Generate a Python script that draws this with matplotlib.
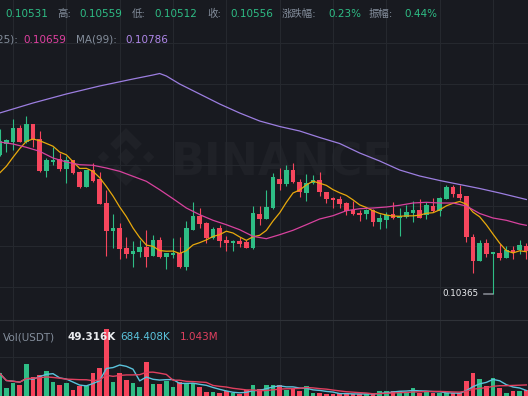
import numpy as np
import pandas as pd
import matplotlib
matplotlib.use('Agg')
import matplotlib.pyplot as plt
from matplotlib.patches import Polygon
from matplotlib.transforms import IdentityTransform

plt.rcParams['font.family'] = ['DejaVu Sans', 'Noto Sans CJK SC']

# candle data (80 candles)
opens = [0.11060, 0.111175, 0.111275, 0.11195, 0.111275, 0.11215, 0.111375, 0.10980, 0.11025, 0.110375,
         0.10990, 0.110325, 0.109775, 0.109025, 0.109825, 0.109375, 0.108225, 0.106825, 0.10695, 0.10595,
         0.105675, 0.105775, 0.105975, 0.105575, 0.10635, 0.10550, 0.10560, 0.10570, 0.10500, 0.106875,
         0.10755, 0.10720, 0.10645, 0.106925, 0.106375, 0.10620, 0.10630, 0.106275, 0.10595, 0.10765,
         0.107425, 0.10795, 0.10940, 0.109175, 0.10985, 0.10925, 0.10870, 0.10920, 0.109325, 0.10875,
         0.108475, 0.10840, 0.10820, 0.10785, 0.10770, 0.10765, 0.10785, 0.10725, 0.10735, 0.10765,
         0.10745, 0.107525, 0.10770, 0.10785, 0.10760, 0.108075, 0.10780, 0.108425, 0.108975, 0.108675,
         0.108525, 0.106525, 0.105325, 0.106175, 0.10565, 0.105725, 0.105475, 0.10585, 0.10585, 0.106075]
closes = [0.11130, 0.11135, 0.11195, 0.111275, 0.11215, 0.111375, 0.10980, 0.11035, 0.110375, 0.10990,
          0.110325, 0.109725, 0.109025, 0.109825, 0.10930, 0.108175, 0.106825, 0.106975, 0.10590, 0.10565,
          0.105825, 0.105975, 0.105525, 0.106375, 0.10550, 0.105675, 0.10570, 0.10500, 0.106925, 0.10755,
          0.107175, 0.10645, 0.10690, 0.106325, 0.10620, 0.10630, 0.106175, 0.105975, 0.10770, 0.107425,
          0.108025, 0.10950, 0.10915, 0.10985, 0.10925, 0.10875, 0.10920, 0.10935, 0.108775, 0.10840,
          0.10835, 0.10815, 0.107825, 0.10765, 0.10760, 0.10785, 0.10725, 0.107425, 0.10760, 0.10745,
          0.107575, 0.10775, 0.10785, 0.107475, 0.10810, 0.10780, 0.10845, 0.108975, 0.10865, 0.108475,
          0.106525, 0.105325, 0.106175, 0.10565, 0.105725, 0.105475, 0.10585, 0.105725, 0.106075, 0.105825]
highs = [0.11190, 0.111425, 0.11240, 0.11210, 0.11255, 0.112175, 0.11180, 0.11045, 0.11100, 0.11070,
         0.110575, 0.11035, 0.10980, 0.10985, 0.11020, 0.10975, 0.10885, 0.10765, 0.10720, 0.10650,
         0.10630, 0.10635, 0.106875, 0.106625, 0.106525, 0.10570, 0.10645, 0.10650, 0.10730, 0.108275,
         0.10795, 0.10725, 0.10700, 0.107125, 0.10655, 0.10635, 0.10650, 0.106375, 0.10805, 0.108075,
         0.10885, 0.10970, 0.10995, 0.11010, 0.110225, 0.10940, 0.10965, 0.10960, 0.10975, 0.108775,
         0.108525, 0.10855, 0.10825, 0.108325, 0.107875, 0.10790, 0.10790, 0.10765, 0.107775, 0.108275,
         0.10795, 0.10810, 0.10830, 0.10840, 0.108275, 0.10845, 0.10850, 0.10910, 0.10910, 0.109125,
         0.108575, 0.10665, 0.106375, 0.10640, 0.10575, 0.10615, 0.10605, 0.106075, 0.106375, 0.106225]
lows = [0.11055, 0.11075, 0.110875, 0.11125, 0.111225, 0.11100, 0.10975, 0.109525, 0.11010, 0.10980,
        0.10920, 0.10965, 0.108975, 0.10900, 0.109275, 0.10815, 0.10555, 0.105975, 0.10540, 0.105475,
        0.105025, 0.105525, 0.10500, 0.10555, 0.105475, 0.10490, 0.10545, 0.10495, 0.104875, 0.10685,
        0.10695, 0.10620, 0.10640, 0.106025, 0.105825, 0.105825, 0.10600, 0.10595, 0.10590, 0.10710,
        0.10740, 0.10790, 0.10885, 0.10905, 0.109225, 0.10850, 0.108325, 0.10915, 0.10855, 0.108225,
        0.107975, 0.107975, 0.10760, 0.107625, 0.107325, 0.10740, 0.10705, 0.106925, 0.10695, 0.10740,
        0.10655, 0.10745, 0.107275, 0.10745, 0.107425, 0.10775, 0.10755, 0.10840, 0.108525, 0.10835,
        0.106275, 0.104725, 0.10530, 0.105525, 0.10365, 0.105375, 0.10545, 0.105425, 0.105675, 0.10540]

# volume in million USDT
volumes = [1.36, 0.50, 0.80, 0.66, 1.92, 1.16, 1.26, 1.50, 0.86, 0.66,
           0.80, 0.36, 0.60, 0.62, 1.36, 1.66, 4.02, 0.86, 1.40, 0.96,
           0.80, 0.52, 2.02, 0.72, 0.72, 0.92, 0.56, 0.86, 0.72, 0.80,
           0.56, 0.26, 0.22, 0.16, 0.32, 0.16, 0.10, 0.36, 0.66, 0.40,
           0.66, 0.66, 0.66, 0.36, 0.40, 0.30, 0.62, 0.16, 0.20, 0.10,
           0.10, 0.16, 0.16, 0.10, 0.10, 0.10, 0.14, 0.32, 0.32, 0.32,
           0.32, 0.20, 0.50, 0.20, 0.26, 0.16, 0.16, 0.16, 0.16, 0.20,
           0.92, 1.36, 1.00, 0.60, 1.10, 0.50, 0.20, 0.30, 0.30, 0.36]

# moving averages (first MA7 points and MA25/MA99)
ma7_head = [0.10970, 0.110035, 0.110485, 0.110915, 0.111285, 0.11140]
ma25_idx = list(range(0, 80, 2)) + [79]
ma25_val = [0.11125, 0.11115, 0.110985, 0.110785, 0.11045, 0.11025, 0.110115, 0.110085, 0.10995, 0.109785,
            0.109535, 0.109285, 0.108865, 0.108415, 0.10795, 0.107615, 0.107335, 0.107115, 0.106865, 0.106535,
            0.106415, 0.106615, 0.106835, 0.107115, 0.10740, 0.107565, 0.107815, 0.107915, 0.10795, 0.10800,
            0.108085, 0.10820, 0.108235, 0.10820, 0.10820, 0.10805, 0.107675, 0.10745, 0.107335, 0.10715, 0.107085]
ma99_idx = [0, 5, 10, 15, 20, 23, 24, 25, 27, 30, 33, 36, 39, 42, 45, 48, 51, 54, 57, 60, 63, 66, 69, 72, 75, 79]
ma99_val = [0.11270, 0.11320, 0.11365, 0.11405, 0.11440, 0.11460, 0.114675, 0.11455, 0.11415, 0.11365,
            0.11315, 0.11270, 0.11230, 0.112025, 0.11180, 0.111475, 0.111175, 0.11070, 0.11030, 0.10985,
            0.10955, 0.109325, 0.109125, 0.108925, 0.10870, 0.108375]

BG = '#181a20'
GRID = '#25282e'
GREEN = '#2ebd85'
RED = '#f6465d'
GREY = '#848e9c'
W, H = 528, 396

o = np.array(opens); c = np.array(closes)
hi = np.array(highs); lo = np.array(lows)
x = np.arange(len(o))
col = np.where(c >= o, GREEN, RED)

fig = plt.figure(figsize=(W / 100, H / 100), dpi=100, facecolor=BG)
ax = fig.add_axes([0, 76 / H, 1, 320 / H])
axv = fig.add_axes([0, 0, 1, 76 / H])

for a in (ax, axv):
    a.set_facecolor(BG)
    a.set_xlim(0.05, 79.25)
    a.set_xticks(np.arange(2, 80, 8))
    a.set_axisbelow(True)
    a.grid(color=GRID, lw=0.8)
    a.tick_params(length=0, labelleft=False, labelbottom=False)
    for s in a.spines.values():
        s.set_visible(False)

ax.set_ylim(0.10235, 0.11835)
ax.set_yticks(np.linspace(0.104, 0.1162, 7))

# watermark (very faint)
wm = '#1f2127'
cx, cy, sc = 126, H - 157, 29
pieces = [
    [(0, 0.3), (0.3, 0), (0, -0.3), (-0.3, 0)],
    [(-0.78, 0.2), (-0.58, 0), (-0.78, -0.2), (-0.98, 0)],
    [(0.78, 0.2), (0.98, 0), (0.78, -0.2), (0.58, 0)],
    [(-0.55, 0.45), (0, 1), (0.55, 0.45), (0.34, 0.24), (0, 0.58), (-0.34, 0.24)],
    [(-0.55, -0.45), (0, -1), (0.55, -0.45), (0.34, -0.24), (0, -0.58), (-0.34, -0.24)],
]
for p in pieces:
    pts = [(cx + u * sc, cy + v * sc) for u, v in p]
    ax.add_patch(Polygon(pts, closed=True, fc=wm, ec='none', transform=IdentityTransform(), zorder=0.2))
ax.text(282, H - 175, 'BINANCE', transform=IdentityTransform(), fontsize=32, fontweight='bold',
        color=wm, ha='center', va='baseline', zorder=0.2)

# candles
ax.vlines(x, lo, hi, colors=col, lw=0.8, zorder=2)
body = np.maximum(np.abs(c - o), 0.00005)
ax.bar(x, body, bottom=np.minimum(o, c), width=0.7, color=col, lw=0, zorder=3)

# MA lines
ma7 = pd.Series(c).rolling(7).mean().values
ma7[:6] = ma7_head
ax.plot(x, ma7, color='#e8a90c', lw=0.9, zorder=4)
ax.plot(ma25_idx, ma25_val, color='#d8429e', lw=0.9, zorder=4)
ax.plot(ma99_idx, ma99_val, color='#9c7ee0', lw=0.9, zorder=4)

# lowest price label
li = int(np.argmin(lo))
ax.annotate(f'{lo[li]:.5f}', xy=(li, lo[li]), xytext=(-15, 0), textcoords='offset pixels',
            ha='right', va='center', color='#eaecef', fontsize=6.3,
            arrowprops=dict(arrowstyle='-', color='#b7bdc6', lw=0.8, shrinkA=2, shrinkB=0))

# volume pane
v = np.array(volumes)
axv.set_ylim(0, 4.56)
axv.set_yticks([2.34])
axv.spines['top'].set_visible(True)
axv.spines['top'].set_color('#2f3238')
axv.bar(x, v, width=0.7, color=col, lw=0, zorder=2)
axv.plot(x, pd.Series(v).rolling(5, min_periods=1).mean(), color='#5ac3dc', lw=1.0, zorder=3)
axv.plot(x, pd.Series(v).rolling(10, min_periods=1).mean(), color='#e0405f', lw=1.0, zorder=3)


def t(xp, yp, s, color, **kw):
    fig.text(xp / W, 1 - yp / H, s, color=color, fontsize=7.5, va='center', **kw)


# header row
head = [(5, '0.10531', GREEN), (57, '高:', GREY), (79, '0.10559', GREEN), (132, '低:', GREY),
        (154, '0.10512', GREEN), (207, '收:', GREY), (230, '0.10556', GREEN), (282, '涨跌幅:', GREY),
        (328, '0.23%', GREEN), (369, '振幅:', GREY), (404, '0.44%', GREEN)]
for xp, s, cl in head:
    t(xp, 14, s, cl)

# MA legend row, cut at the left edge like the original
t(18, 40, 'MA(25):', GREY, ha='right')
t(23, 40, '0.10659', '#e040a0')
t(76, 40, 'MA(99):', GREY)
t(125, 40, '0.10786', '#b088ea')

t(3, 337, 'Vol(USDT)', GREY)
t(67, 337, '49.316K', '#eaecef', fontweight='bold')
t(120, 337, '684.408K', '#5ac3dc')
t(180, 337, '1.043M', '#e0405f')

fig.savefig('out.png', dpi=100, facecolor=BG)
